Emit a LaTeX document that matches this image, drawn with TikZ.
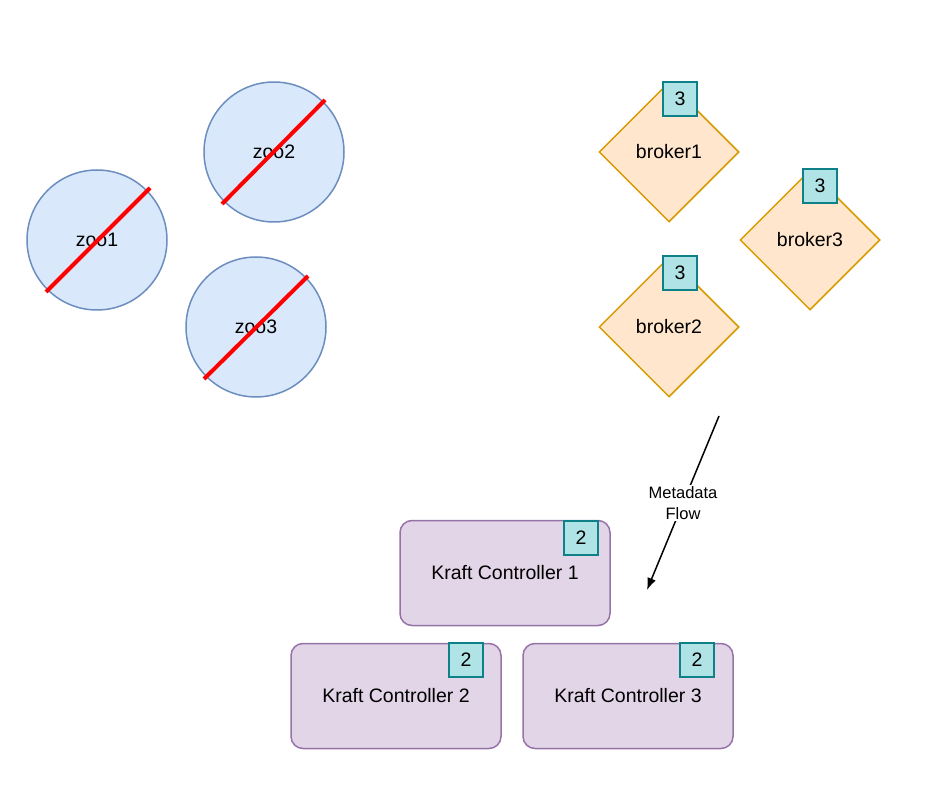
\documentclass[tikz,border=0pt]{standalone}
\usepackage{fontspec}
\setmainfont{Liberation Sans}
\usetikzlibrary{shapes.geometric,arrows.meta}
\begin{document}
\begin{tikzpicture}[x=1pt,y=-1pt,font=\fontsize{19.5}{22}\selectfont]
  \tikzstyle{zoo}=[circle, draw=zoostroke, fill=zoofill, line width=1.5pt, minimum size=140pt, inner sep=0pt]
  \tikzstyle{broker}=[diamond, draw=brokerstroke, fill=brokerfill, line width=1.5pt, minimum width=140pt, minimum height=140pt, inner sep=0pt]
  \tikzstyle{ctrl}=[rectangle, rounded corners=12pt, draw=ctrlstroke, fill=ctrlfill, line width=1.5pt, minimum width=210pt, minimum height=105pt]
  \tikzstyle{badge}=[rectangle, draw=badgestroke, fill=badgefill, line width=1.5pt, minimum size=34pt, inner sep=0pt]
  \tikzstyle{cross}=[red, line width=4pt]
  \definecolor{zoofill}{HTML}{DAE8FC}\definecolor{zoostroke}{HTML}{6C8EBF}
  \definecolor{brokerfill}{HTML}{FFE6CC}\definecolor{brokerstroke}{HTML}{D79B00}
  \definecolor{ctrlfill}{HTML}{E1D5E7}\definecolor{ctrlstroke}{HTML}{9673A6}
  \definecolor{badgefill}{HTML}{B0E3E6}\definecolor{badgestroke}{HTML}{0E8088}
  \useasboundingbox (0,0) rectangle (938,810);

  \node (zoo1) [zoo] at (97,240) {zoo1};
  \node (zoo2) [zoo] at (274,152) {zoo2};
  \node (zoo3) [zoo] at (256,327) {zoo3};
  \draw [cross] (46,292) -- (150,188);
  \draw [cross] (222,204) -- (325,100);
  \draw [cross] (204,379) -- (308,276);

  \node (broker1) [broker] at (669,152) {broker1};
  \node (broker2) [broker] at (669,327) {broker2};
  \node (broker3) [broker] at (810,240) {broker3};
  \node (b1badge) [badge] at (680,99) {3};
  \node (b2badge) [badge] at (680,273) {3};
  \node (b3badge) [badge] at (820,186) {3};

  \node (ctrl1) [ctrl] at (505,573) {Kraft Controller 1};
  \node (ctrl2) [ctrl] at (396,696) {Kraft Controller 2};
  \node (ctrl3) [ctrl] at (628,696) {Kraft Controller 3};
  \node (c1badge) [badge] at (581,538) {2};
  \node (c2badge) [badge] at (466,660) {2};
  \node (c3badge) [badge] at (697,660) {2};

  \coordinate (flowstart) at (719,416);
  \coordinate (flowend) at (647,590);
  \draw [-{Latex[length=12pt,width=9pt]}, line width=1.5pt] (flowstart) -- (flowend)
    node [pos=0.5, fill=white, align=center, inner sep=1pt, font=\fontsize{16.5}{21}\selectfont] (flowlabel) {Metadata\\Flow};
\end{tikzpicture}
\end{document}
